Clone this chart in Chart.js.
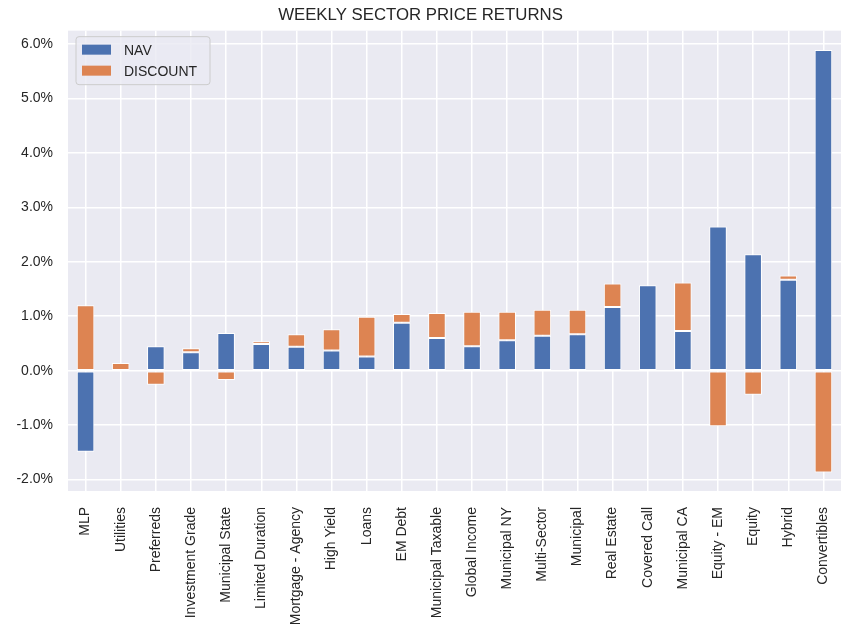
<!DOCTYPE html>
<html>
<head>
<meta charset="utf-8">
<script src="https://cdn.jsdelivr.net/npm/chart.js@4/dist/chart.umd.min.js"></script>
<style>
  html, body { margin: 0; padding: 0; background: #fff; }
  #wrap { width: 851px; height: 643px; }
</style>
</head>
<body>
<div id="wrap"><canvas id="chart" width="851" height="643"></canvas></div>
<script>
// sectors, in the order shown
const sectors = ['MLP', 'Utilities', 'Preferreds', 'Investment Grade', 'Municipal State',
  'Limited Duration', 'Mortgage - Agency', 'High Yield', 'Loans', 'EM Debt',
  'Municipal Taxable', 'Global Income', 'Municipal NY', 'Multi-Sector', 'Municipal',
  'Real Estate', 'Covered Call', 'Municipal CA', 'Equity - EM', 'Equity', 'Hybrid', 'Convertibles'];

// weekly returns in percent
const navReturns = [-1.49, 0.0, 0.45, 0.34, 0.69, 0.49, 0.44, 0.37, 0.26, 0.88,
  0.60, 0.45, 0.56, 0.64, 0.67, 1.17, 1.57, 0.73, 2.65, 2.14, 1.67, 5.89];
const discountReturns = [1.20, 0.14, -0.26, 0.07, -0.17, 0.05, 0.23, 0.39, 0.73, 0.16,
  0.46, 0.63, 0.52, 0.48, 0.45, 0.43, 0.01, 0.89, -1.02, -0.44, 0.08, -1.87];

const yTicks = [-2, -1, 0, 1, 2, 3, 4, 5, 6];

const textColor = '#262626';
const fontFamily = "'Liberation Sans', Arial, sans-serif";

// grey plot background like seaborn darkgrid
const plotBg = {
  id: 'plotBg',
  beforeDraw(chart) {
    const { ctx, chartArea: a } = chart;
    ctx.save();
    ctx.fillStyle = '#EAEAF2';
    ctx.fillRect(a.left, a.top, a.right - a.left, a.bottom - a.top);
    ctx.restore();
  }
};

// legend box drawn inside the plot, top-left
const innerLegend = {
  id: 'innerLegend',
  afterDatasetsDraw(chart) {
    const { ctx, chartArea: a } = chart;
    const x = a.left + 8, y = a.top + 6, w = 134, h = 48;
    ctx.save();
    ctx.beginPath();
    ctx.roundRect(x, y, w, h, 3);
    ctx.fillStyle = 'rgba(234,234,242,0.8)';
    ctx.fill();
    ctx.strokeStyle = '#cccccc';
    ctx.lineWidth = 1;
    ctx.stroke();
    ctx.font = '14px ' + fontFamily;
    ctx.textBaseline = 'middle';
    chart.data.datasets.forEach((ds, i) => {
      const cy = y + 13 + i * 21;
      ctx.fillStyle = ds.backgroundColor;
      ctx.fillRect(x + 6, cy - 5, 29, 10);
      ctx.fillStyle = textColor;
      ctx.fillText(ds.label, x + 48, cy + 1);
    });
    ctx.restore();
  }
};

new Chart(document.getElementById('chart'), {
  type: 'bar',
  data: {
    labels: sectors,
    datasets: [
      { label: 'NAV', data: navReturns, backgroundColor: '#4C72B0' },
      { label: 'DISCOUNT', data: discountReturns, backgroundColor: '#DD8452' }
    ]
  },
  options: {
    responsive: false,
    animation: false,
    layout: { padding: { left: 0, right: 10, top: 0, bottom: 0 } },
    datasets: {
      bar: {
        barPercentage: 0.5,
        categoryPercentage: 1.0,
        borderColor: '#ffffff',
        borderWidth: 1,
        borderSkipped: false
      }
    },
    plugins: {
      legend: { display: false },
      tooltip: { enabled: false },
      title: {
        display: true,
        text: 'WEEKLY SECTOR PRICE RETURNS',
        color: textColor,
        font: { family: fontFamily, size: 16.8, weight: 'normal' },
        padding: { top: 5.5, bottom: 5 }
      }
    },
    scales: {
      x: {
        stacked: true,
        grid: { color: '#ffffff', lineWidth: 1.5, offset: false, drawTicks: false },
        border: { display: false },
        ticks: {
          color: textColor,
          font: { family: fontFamily, size: 14 },
          minRotation: 90,
          maxRotation: 90,
          autoSkip: false,
          padding: 16
        },
        afterFit(s) { s.height = 152; s.paddingLeft = 0; s.paddingRight = 0; }
      },
      y: {
        stacked: true,
        min: -2.21,
        max: 6.245,
        grid: { color: '#ffffff', lineWidth: 1.5, drawTicks: false },
        border: { display: false },
        afterBuildTicks(s) { s.ticks = yTicks.map(v => ({ value: v })); },
        ticks: {
          color: textColor,
          font: { family: fontFamily, size: 14 },
          padding: 15,
          callback: v => v.toFixed(1) + '%'
        },
        afterFit(s) { s.width = 68; s.paddingTop = 0; s.paddingBottom = 0; }
      }
    }
  },
  plugins: [plotBg, innerLegend]
});
</script>
</body>
</html>
